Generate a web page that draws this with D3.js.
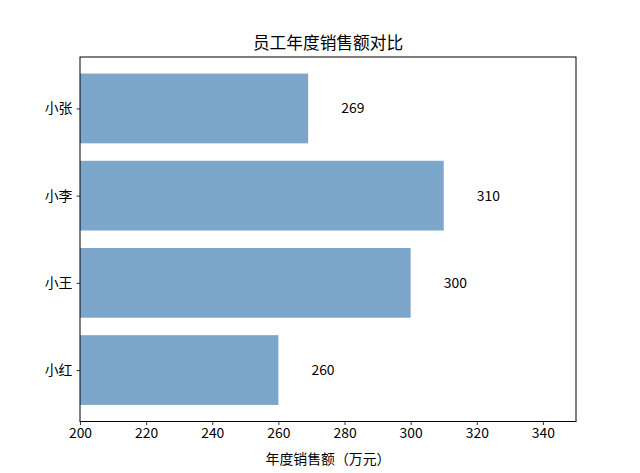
<!DOCTYPE html>
<html><head><meta charset="utf-8">
<script src="https://cdn.jsdelivr.net/npm/d3@7"></script>
<style>body{margin:0;background:#fff}svg{display:block}text{font-family:"Noto Sans CJK SC","DejaVu Sans",sans-serif}.num{font-family:"Liberation Sans Narrow","Noto Sans CJK SC",sans-serif}</style>
</head><body>
<script>
const categories = ["小红", "小王", "小李", "小张"];
const values = [260, 300, 310, 269];
const xTicks = [200, 220, 240, 260, 280, 300, 320, 340];
const title = "员工年度销售额对比";
const xLabel = "年度销售额（万元）";

const W = 640, H = 473;
const L = 80, R = 576, T = 57, B = 421.5;
const svg = d3.select("body").append("svg").attr("width", W).attr("height", H);

const x = d3.scaleLinear().domain([200, 350]).range([L, R]);
const y = d3.scaleLinear().domain([-0.59, 3.59]).range([B, T]);
const bh = 0.8;

svg.append("g").selectAll("rect").data(categories).join("rect")
  .attr("x", x(200))
  .attr("y", (d, i) => y(i + bh / 2))
  .attr("width", (d, i) => x(values[i]) - x(200))
  .attr("height", (d, i) => y(i - bh / 2) - y(i + bh / 2))
  .attr("fill", "steelblue").attr("fill-opacity", 0.7);

svg.append("g").selectAll("text").data(categories).join("text")
  .attr("class", "num")
  .attr("x", (d, i) => x(values[i] + 10))
  .attr("y", (d, i) => y(i))
  .attr("dy", "0.36em")
  .attr("font-size", 13.9).attr("fill", "#000")
  .text((d, i) => values[i]);

const xAxis = svg.append("g").attr("transform", `translate(0,${B})`)
  .call(d3.axisBottom(x).tickValues(xTicks).tickSize(3.5).tickPadding(3).tickFormat(d3.format("d")));
xAxis.selectAll("text").attr("class", "num").attr("font-size", 13.9).attr("fill", "#000");

const yAxis = svg.append("g").attr("transform", `translate(${L},0)`)
  .call(d3.axisLeft(y).tickValues(d3.range(categories.length)).tickSize(3.5).tickPadding(4)
    .tickFormat(i => categories[i]));
yAxis.selectAll("text").attr("font-size", 13.9).attr("fill", "#000");
[xAxis, yAxis].forEach(a => { a.select(".domain").remove(); a.selectAll("line").attr("stroke", "#000").attr("stroke-width", 0.8); });

svg.append("rect").attr("x", L).attr("y", T).attr("width", R - L).attr("height", B - T)
  .attr("fill", "none").attr("stroke", "#000").attr("stroke-width", 1);

svg.append("text").attr("x", (L + R) / 2).attr("y", 49).attr("text-anchor", "middle")
  .attr("font-size", 16.7).attr("fill", "#000").text(title);
svg.append("text").attr("x", (L + R) / 2).attr("y", 464).attr("text-anchor", "middle")
  .attr("font-size", 13.9).attr("fill", "#000").text(xLabel);
</script>
</body></html>
